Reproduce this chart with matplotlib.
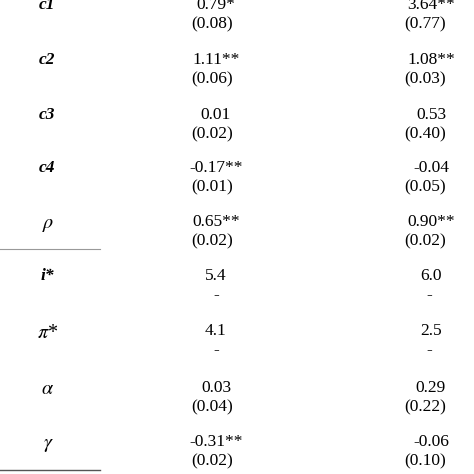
import matplotlib
matplotlib.use('Agg')
import matplotlib.pyplot as plt

plt.rcParams['font.family'] = 'Liberation Serif'
plt.rcParams['mathtext.fontset'] = 'stix'

# Table content
labels = ['c1', 'c2', 'c3', 'c4', r'$\rho$', 'i*', r'$\pi$*', r'$\alpha$', r'$\gamma$']
col1_est = ['0.79*', '1.11**', '0.01', '-0.17**', '0.65**', '5.4', '4.1', '0.03', '-0.31**']
col1_se = ['(0.08)', '(0.06)', '(0.02)', '(0.01)', '(0.02)', '-', '-', '(0.04)', '(0.02)']
col2_est = ['3.64**', '1.08**', '0.53', '-0.04', '0.90**', '6.0', '2.5', '0.29', '-0.06']
col2_se = ['(0.77)', '(0.03)', '(0.40)', '(0.05)', '(0.02)', '-', '-', '(0.22)', '(0.10)']
bold_labels = ['c1', 'c2', 'c3', 'c4', 'i*']

fig = plt.figure(figsize=(4.74, 4.74), dpi=100)
ax = fig.add_axes([0, 0, 1, 1])
ax.set_xlim(0, 474)
ax.set_ylim(474, 0)
ax.axis('off')

row_y = [5, 60, 115, 168, 222, 276, 331, 388, 442]
fs = 12.5
for i, lab in enumerate(labels):
    y = row_y[i]
    if lab in bold_labels:
        ax.text(47, y, lab, ha='center', va='center', fontsize=fs,
                fontweight='bold', fontstyle='italic')
    else:
        ax.text(48, y + 2, lab, ha='center', va='center', fontsize=fs + 2)
    ax.text(216, y, col1_est[i], ha='center', va='center', fontsize=fs)
    se_dx = 0 if col1_se[i] == '-' else -4
    ax.text(212 + (4 if se_dx == 0 else 0), y + 19, col1_se[i],
            ha='center', va='center', fontsize=fs)
    ax.text(431, y, col2_est[i], ha='center', va='center', fontsize=fs)
    ax.text(425 + (4 if se_dx == 0 else 0), y + 19, col2_se[i],
            ha='center', va='center', fontsize=fs)

ax.plot([0, 100], [249, 249], color='#999999', lw=0.8)
ax.plot([0, 100], [470, 470], color='#555555', lw=1.0)

fig.savefig('out.png', dpi=100)
